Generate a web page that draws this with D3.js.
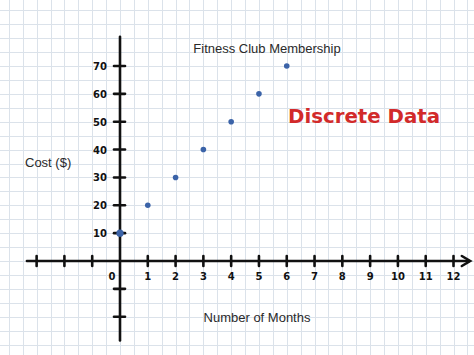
<!DOCTYPE html>
<html>
<head>
<meta charset="utf-8">
<script src="https://cdn.jsdelivr.net/npm/d3@7"></script>
<style>
  body { margin: 0; background: #fff; }
  svg { display: block; font-family: "Liberation Sans", Arial, sans-serif; }
  .tick-label { font-family: "DejaVu Sans", sans-serif; font-weight: bold; font-size: 10px; fill: #111; }
</style>
</head>
<body>
<svg id="chart"></svg>
<script>
// data
const months = [0, 1, 2, 3, 4, 5, 6];
const cost = [10, 20, 30, 40, 50, 60, 70];
const xTickValues = [-3, -2, -1, 1, 2, 3, 4, 5, 6, 7, 8, 9, 10, 11, 12];
const xLabelValues = [1, 2, 3, 4, 5, 6, 7, 8, 9, 10, 11, 12];
const yTickValues = [-20, -10, 10, 20, 30, 40, 50, 60, 70];
const yLabelValues = [10, 20, 30, 40, 50, 60, 70];

const W = 474, H = 355;
const svg = d3.select('#chart').attr('width', W).attr('height', H);

// scales: origin at (120, 261), ~27.8px per unit
const x = d3.scaleLinear().domain([0, 12]).range([120, 453.5]);
const y = d3.scaleLinear().domain([0, 70]).range([261, 66]);

// grid paper, half a unit apart
const gridX = d3.range(-4.5, 13.5, 0.5);
const gridY = d3.range(-35, 95, 5);
const grid = svg.append('g').attr('stroke', '#dbe2ea').attr('stroke-width', 1);
grid.selectAll('.gx').data(gridX).enter().append('line')
    .attr('x1', d => Math.round(x(d)) + 0.5).attr('x2', d => Math.round(x(d)) + 0.5)
    .attr('y1', 0).attr('y2', H);
grid.selectAll('.gy').data(gridY).enter().append('line')
    .attr('y1', d => Math.round(y(d)) + 0.5).attr('y2', d => Math.round(y(d)) + 0.5)
    .attr('x1', 0).attr('x2', W);

// axes
const axes = svg.append('g').attr('stroke', '#111').attr('stroke-width', 2.6)
    .attr('stroke-linecap', 'round');

axes.append('line')
    .attr('x1', x(-3.35)).attr('x2', x(12.55))
    .attr('y1', y(0)).attr('y2', y(0));
axes.append('path')
    .attr('fill', 'none')
    .attr('d', `M${x(12.3)},${y(0) - 5} L${x(12.6)},${y(0)} L${x(12.3)},${y(0) + 5}`);
axes.append('line')
    .attr('x1', x(0)).attr('x2', x(0))
    .attr('y1', y(80.5)).attr('y2', y(-28.5));

axes.selectAll('.xt').data(xTickValues).enter().append('line')
    .attr('x1', d => x(d)).attr('x2', d => x(d))
    .attr('y1', y(0) - 5).attr('y2', y(0) + 5);
axes.selectAll('.yt').data(yTickValues).enter().append('line')
    .attr('y1', d => y(d)).attr('y2', d => y(d))
    .attr('x1', x(0) - 6).attr('x2', x(0) + 5);

// tick labels
svg.selectAll('.xl').data(xLabelValues).enter().append('text')
    .attr('class', 'tick-label')
    .attr('x', d => x(d)).attr('y', y(0) + 19)
    .attr('text-anchor', 'middle')
    .text(d => d);
svg.append('text').attr('class', 'tick-label')
    .attr('x', x(0) - 8).attr('y', y(0) + 19)
    .attr('text-anchor', 'middle').text('0');
svg.selectAll('.yl').data(yLabelValues).enter().append('text')
    .attr('class', 'tick-label')
    .attr('x', x(0) - 13).attr('y', d => y(d) + 4)
    .attr('text-anchor', 'end')
    .text(d => d);

// points
svg.selectAll('.pt').data(months).enter().append('circle')
    .attr('cx', d => x(d)).attr('cy', (d, i) => y(cost[i]))
    .attr('r', d => d === 0 ? 3.6 : 2.8)
    .attr('fill', '#3b63a8');

// titles
svg.append('text').attr('x', 267).attr('y', 53)
    .attr('text-anchor', 'middle').attr('font-size', 13).attr('fill', '#2a2a2a')
    .text('Fitness Club Membership');
svg.append('text').attr('x', 25).attr('y', 167)
    .attr('font-size', 13).attr('fill', '#2a2a2a')
    .text('Cost ($)');
svg.append('text').attr('x', 257).attr('y', 322)
    .attr('text-anchor', 'middle').attr('font-size', 13).attr('fill', '#2a2a2a')
    .text('Number of Months');

svg.append('text').attr('x', 288).attr('y', 123)
    .attr('font-family', '"DejaVu Sans", sans-serif')
    .attr('font-weight', 'bold').attr('font-size', 19)
    .attr('textLength', 152).attr('lengthAdjust', 'spacingAndGlyphs')
    .attr('fill', '#d22a2a')
    .text('Discrete Data');
</script>
</body>
</html>
